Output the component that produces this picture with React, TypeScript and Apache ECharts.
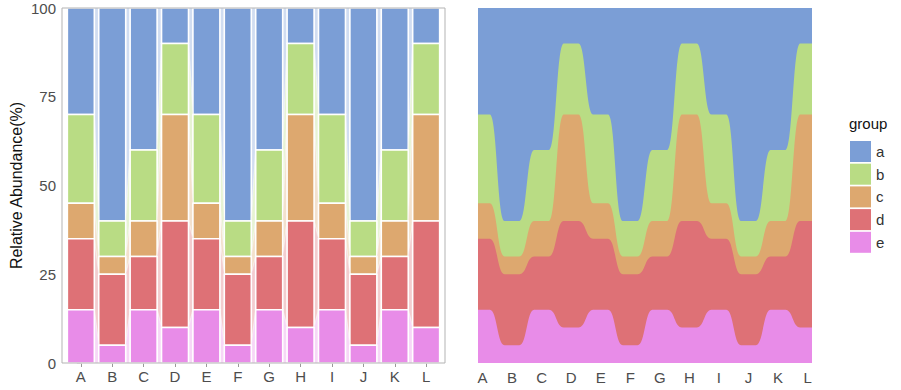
import React, { useEffect, useRef } from "react";
import * as echarts from "echarts";

const categories = ["A", "B", "C", "D", "E", "F", "G", "H", "I", "J", "K", "L"];
const groups = ["a", "b", "c", "d", "e"];
const groupColors = ["#7B9ED6", "#B9DC84", "#DDA86F", "#DE7176", "#E88CE8"];

const valuesA = [30, 60, 40, 10, 30, 60, 40, 10, 30, 60, 40, 10];
const valuesB = [25, 10, 20, 20, 25, 10, 20, 20, 25, 10, 20, 20];
const valuesC = [10, 5, 10, 30, 10, 5, 10, 30, 10, 5, 10, 30];
const valuesD = [20, 20, 15, 30, 20, 20, 15, 30, 20, 20, 15, 30];
const valuesE = [15, 5, 15, 10, 15, 5, 15, 10, 15, 5, 15, 10];

const groupValues = [valuesA, valuesB, valuesC, valuesD, valuesE];

// stacked bounds: e at the bottom, a at the top
function buildBounds() {
  const n = categories.length;
  const bounds: number[][][] = groups.map(() => []);
  for (let i = 0; i < n; i++) {
    let base = 0;
    for (let g = groups.length - 1; g >= 0; g--) {
      const v = groupValues[g][i];
      bounds[g].push([i, base, base + v]);
      base += v;
    }
  }
  return bounds;
}

const FONT = "'Liberation Sans', Arial, Helvetica, sans-serif";

export default function App() {
  const ref = useRef<HTMLDivElement>(null);

  useEffect(() => {
    if (!ref.current) return;
    const chart = echarts.init(ref.current, undefined, { renderer: "svg" });
    const bounds = buildBounds();
    const n = categories.length;
    const idx = categories.map((_, i) => i);
    const HW = 0.43;
    const FLAT = 0.25;
    const RMIN = -0.15;
    const RMAX = 11.15;

    const leftSeries = groups.map((g, k) => ({
      type: "custom",
      name: g,
      xAxisIndex: 0,
      yAxisIndex: 0,
      color: groupColors[k],
      itemStyle: { color: groupColors[k] },
      data: bounds[k],
      encode: { x: 0, y: [1, 2] },
      renderItem: (params: any, api: any) => {
        const x0 = api.value(0);
        const lo = api.value(1);
        const hi = api.value(2);
        const children: any[] = [];
        if (params.dataIndex < n - 1) {
          const nb = bounds[k][params.dataIndex + 1];
          const pts = [
            api.coord([x0 + HW, hi]),
            api.coord([nb[0] - HW, nb[2]]),
            api.coord([nb[0] - HW, nb[1]]),
            api.coord([x0 + HW, lo]),
          ];
          children.push({
            type: "polygon",
            shape: { points: pts },
            style: { fill: groupColors[k], opacity: 0.35, stroke: "#fff", lineWidth: 1.2 },
          });
        }
        const p1 = api.coord([x0 - HW, hi]);
        const p2 = api.coord([x0 + HW, lo]);
        children.push({
          type: "rect",
          shape: { x: p1[0], y: p1[1], width: p2[0] - p1[0], height: p2[1] - p1[1] },
          style: { fill: groupColors[k], stroke: "#fff", lineWidth: 1.6 },
        });
        return { type: "group", children };
      },
    }));

    const rightSeries = groups.map((g, k) => ({
      type: "custom",
      name: g,
      xAxisIndex: 1,
      yAxisIndex: 1,
      color: groupColors[k],
      itemStyle: { color: groupColors[k] },
      data: bounds[k],
      encode: { x: 0, y: [1, 2] },
      z: 2,
      renderItem: (params: any, api: any) => {
        if (params.dataIndex !== 0) return null;
        const tops: number[] = [];
        for (let j = 0; j < n; j++) tops.push(api.value(2, j));
        const P = (x: number, y: number) => {
          const c = api.coord([x, y]);
          return `${c[0].toFixed(2)},${c[1].toFixed(2)}`;
        };
        let d = `M${P(RMIN, 0)} L${P(RMIN, tops[0])}`;
        for (let j = 0; j < n; j++) {
          if (j > 0) {
            d += ` C${P(j - 0.5, tops[j - 1])} ${P(j - 0.5, tops[j])} ${P(j - FLAT, tops[j])}`;
          }
          const xe = j === n - 1 ? RMAX : j + FLAT;
          d += ` L${P(xe, tops[j])}`;
        }
        d += ` L${P(RMAX, 0)} Z`;
        return {
          type: "path",
          shape: { pathData: d },
          style: { fill: groupColors[k] },
        };
      },
    }));

    const axisLabelStyle = { fontFamily: FONT, fontSize: 15, color: "#4D4D4D" };

    chart.setOption({
      animation: false,
      backgroundColor: "#fff",
      textStyle: { fontFamily: FONT },
      grid: [
        { left: 62, top: 8, width: 383, height: 355 },
        { left: 478, top: 8, width: 334, height: 355 },
      ],
      xAxis: [
        {
          type: "value",
          gridIndex: 0,
          min: -0.6,
          max: 11.6,
          splitLine: { show: false },
          axisLine: { show: false },
          axisTick: { show: true, customValues: idx, length: 4, lineStyle: { color: "#999" } },
          axisLabel: {
            ...axisLabelStyle,
            customValues: idx,
            margin: 6,
            formatter: (v: number) => categories[Math.round(v)],
          },
        },
        {
          type: "value",
          gridIndex: 1,
          min: RMIN,
          max: RMAX,
          splitLine: { show: false },
          axisLine: { show: false },
          axisTick: { show: false, customValues: idx },
          axisLabel: {
            ...axisLabelStyle,
            customValues: idx,
            margin: 7,
            formatter: (v: number) => categories[Math.round(v)],
          },
        },
      ],
      yAxis: [
        {
          type: "value",
          gridIndex: 0,
          min: 0,
          max: 100,
          interval: 25,
          splitLine: { show: false },
          axisLine: { show: false },
          axisTick: { show: true, length: 4, lineStyle: { color: "#999" } },
          axisLabel: { ...axisLabelStyle, margin: 6 },
          name: "Relative Abundance(%)",
          nameLocation: "middle",
          nameGap: 38,
          nameTextStyle: { fontFamily: FONT, fontSize: 16, color: "#111" },
        },
        {
          type: "value",
          gridIndex: 1,
          min: 0,
          max: 100,
          interval: 25,
          show: false,
        },
      ],
      legend: {
        orient: "vertical",
        left: 850,
        top: 141,
        padding: 0,
        icon: "rect",
        itemWidth: 21,
        itemHeight: 21,
        itemGap: 1.7,
        selectedMode: false,
        textStyle: { fontFamily: FONT, fontSize: 15, color: "#333" },
        data: groups.map((g, k) => ({ name: g, itemStyle: { color: groupColors[k] } })),
      },
      graphic: [
        {
          type: "rect",
          shape: { x: 62, y: 8, width: 383, height: 355 },
          style: { fill: "none", stroke: "#B3B3B3", lineWidth: 1 },
          z: 100,
          silent: true,
        },
        {
          type: "text",
          left: 849,
          top: 116,
          style: { text: "group", fontFamily: FONT, fontSize: 15, fill: "#111" },
        },
      ],
      series: [...leftSeries, ...rightSeries],
    });

    return () => chart.dispose();
  }, []);

  return (
    <div
      ref={ref}
      style={{ position: "fixed", left: 0, top: 0, width: 901, height: 390, background: "#fff" }}
    />
  );
}
